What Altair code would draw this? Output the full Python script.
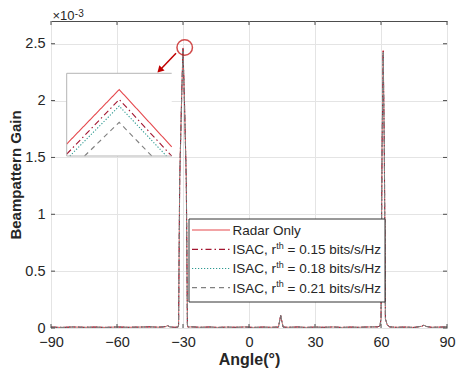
import altair as alt
import pandas as pd

# ---------------- data (gain in units of 1e-3) ----------------
ANGLES = [-90, -85, -80, -75, -70, -65, -60, -55, -50, -45, -41, -38, -37, -36, -34,
          -32.2, -32.0, -31.85, -31.5, -30.6, -30.0, -29.4, -28.5, -28.15, -28.0, -27.8,
          -26, -22, -18, -14, -10, -6, -2, 2, 6, 10, 13.4, 14.4, 15.5, 18, 22, 26, 30,
          34, 38, 42, 46, 50, 54, 58.6, 59.5, 60.0, 60.15, 60.5, 61.0, 61.5, 61.85, 62.0,
          62.8, 63.8, 67, 71, 75, 78.5, 79.5, 80.5, 83, 87, 90]

RADAR = [0.008, 0.005, 0.009, 0.006, 0.008, 0.005, 0.009, 0.006, 0.008, 0.010, 0.007, 0.012, 0.020, 0.010, 0.006,
         0.008, 0.030, 0.45, 1.30, 2.05, 2.463, 2.05, 1.30, 0.45, 0.030, 0.008,
         0.010, 0.006, 0.009, 0.005, 0.008, 0.006, 0.009, 0.005, 0.008, 0.006, 0.008, 0.110, 0.008, 0.006, 0.009, 0.005, 0.008,
         0.006, 0.009, 0.005, 0.008, 0.006, 0.009, 0.010, 0.020, 0.08, 0.60, 1.60, 2.44, 1.60, 0.60, 0.08,
         0.030, 0.010, 0.006, 0.008, 0.005, 0.015, 0.025, 0.014, 0.006, 0.008, 0.010]

ISAC_015 = [0.008, 0.005, 0.009, 0.006, 0.008, 0.005, 0.009, 0.006, 0.008, 0.010, 0.007, 0.012, 0.020, 0.010, 0.006,
            0.008, 0.030, 0.45, 1.30, 2.044, 2.456, 2.044, 1.30, 0.45, 0.030, 0.008,
            0.010, 0.006, 0.009, 0.005, 0.008, 0.006, 0.009, 0.005, 0.008, 0.006, 0.008, 0.110, 0.008, 0.006, 0.009, 0.005, 0.008,
            0.006, 0.009, 0.005, 0.008, 0.006, 0.009, 0.010, 0.020, 0.08, 0.60, 1.595, 2.435, 1.595, 0.60, 0.08,
            0.030, 0.010, 0.006, 0.008, 0.005, 0.015, 0.025, 0.014, 0.006, 0.008, 0.010]

ISAC_018 = [0.008, 0.005, 0.009, 0.006, 0.008, 0.005, 0.009, 0.006, 0.008, 0.010, 0.007, 0.012, 0.020, 0.010, 0.006,
            0.008, 0.030, 0.45, 1.30, 2.040, 2.451, 2.040, 1.30, 0.45, 0.030, 0.008,
            0.010, 0.006, 0.009, 0.005, 0.008, 0.006, 0.009, 0.005, 0.008, 0.006, 0.008, 0.110, 0.008, 0.006, 0.009, 0.005, 0.008,
            0.006, 0.009, 0.005, 0.008, 0.006, 0.009, 0.010, 0.020, 0.08, 0.60, 1.590, 2.430, 1.590, 0.60, 0.08,
            0.030, 0.010, 0.006, 0.008, 0.005, 0.015, 0.025, 0.014, 0.006, 0.008, 0.010]

ISAC_021 = [0.008, 0.005, 0.009, 0.006, 0.008, 0.005, 0.009, 0.006, 0.008, 0.010, 0.007, 0.012, 0.020, 0.010, 0.006,
            0.008, 0.030, 0.45, 1.30, 2.030, 2.439, 2.030, 1.30, 0.45, 0.030, 0.008,
            0.010, 0.006, 0.009, 0.005, 0.008, 0.006, 0.009, 0.005, 0.008, 0.006, 0.008, 0.110, 0.008, 0.006, 0.009, 0.005, 0.008,
            0.006, 0.009, 0.005, 0.008, 0.006, 0.009, 0.010, 0.020, 0.08, 0.60, 1.580, 2.420, 1.580, 0.60, 0.08,
            0.030, 0.010, 0.006, 0.008, 0.005, 0.015, 0.025, 0.014, 0.006, 0.008, 0.010]

# zoomed-in view of the -30 degree peak (inset)
INSET_RADAR_X = [-30.05, -30.0, -29.95]
INSET_RADAR_Y = [2.4237, 2.4632, 2.4217]
INSET_015_X = [-30.05, -30.0, -29.95]
INSET_015_Y = [2.4164, 2.456, 2.415]
INSET_018_X = [-30.047, -30.0, -29.955]
INSET_018_Y = [2.415, 2.4512, 2.415]
INSET_021_X = [-30.033, -30.0, -29.969]
INSET_021_Y = [2.415, 2.4394, 2.415]

SERIES = ["Radar Only", "ISAC, rth = 0.15 bits/s/Hz", "ISAC, rth = 0.18 bits/s/Hz", "ISAC, rth = 0.21 bits/s/Hz"]
RATES = ["0.15", "0.18", "0.21"]
COLORS = ["#e5484d", "#a2142f", "#2f9a92", "#808080"]
DASHES = [[1, 0], [6, 3, 1.5, 3], [1.2, 1.8], [5, 4]]

XTICKS = [-90, -60, -30, 0, 30, 60, 90]
YTICKS = [0, 0.5, 1, 1.5, 2, 2.5]

W, H = 396, 307
FONT = "Liberation Sans"
TXT = "#262626"

# ---------------- frames ----------------
rows = []
for name, vals in zip(SERIES, [RADAR, ISAC_015, ISAC_018, ISAC_021]):
    for a, v in zip(ANGLES, vals):
        rows.append({"series": name, "angle": a, "gain": v})
df = pd.DataFrame(rows)

irows = []
for name, xs, ys in zip(SERIES,
                        [INSET_RADAR_X, INSET_015_X, INSET_018_X, INSET_021_X],
                        [INSET_RADAR_Y, INSET_015_Y, INSET_018_Y, INSET_021_Y]):
    for a, v in zip(xs, ys):
        irows.append({"series": name, "angle": a, "gain": v})
idf = pd.DataFrame(irows)

xt = pd.DataFrame({"t": XTICKS})
yt = pd.DataFrame({"t": YTICKS})
one = pd.DataFrame({"k": [0]})

color = alt.Color("series:N", scale=alt.Scale(domain=SERIES, range=COLORS), legend=None)
dash = alt.StrokeDash("series:N", scale=alt.Scale(domain=SERIES, range=DASHES), legend=None)

xscale = alt.Scale(domain=[-90, 90], nice=False)
yscale = alt.Scale(domain=[0, 2.7], nice=False)

lines = alt.Chart(df).mark_line(strokeWidth=1, clip=True).encode(
    x=alt.X("angle:Q", scale=xscale,
            axis=alt.Axis(values=XTICKS, title="Angle(°)", format="d", labelPadding=7,
                          titlePadding=3, labelFlush=False, labelOverlap=False)),
    y=alt.Y("gain:Q", scale=yscale,
            axis=alt.Axis(values=YTICKS, title="Beampattern Gain", format="~g", labelPadding=6,
                          titlePadding=1, titleFontSize=15, labelFlush=False, labelOverlap=False)),
    color=color, strokeDash=dash,
)

tick_col = "#4d4d4d"
xt_b = alt.Chart(xt).mark_rule(color=tick_col).encode(x=alt.X("t:Q", scale=xscale), y=alt.value(H), y2=alt.value(H - 4))
xt_t = alt.Chart(xt).mark_rule(color=tick_col).encode(x=alt.X("t:Q", scale=xscale), y=alt.value(0), y2=alt.value(4))
yt_l = alt.Chart(yt).mark_rule(color=tick_col).encode(y=alt.Y("t:Q", scale=yscale), x=alt.value(0), x2=alt.value(4))
yt_r = alt.Chart(yt).mark_rule(color=tick_col).encode(y=alt.Y("t:Q", scale=yscale), x=alt.value(W), x2=alt.value(W - 4))

main = alt.layer(lines, xt_b, xt_t, yt_l, yt_r)

# inset
IX0, IX1, IY0, IY1 = 15.7, 120.7, 52.3, 135
inset_bg = alt.Chart(one).mark_rect(fill="white").encode(
    x=alt.value(IX0), x2=alt.value(IX1), y=alt.value(IY0), y2=alt.value(IY1))
inset_lines = alt.Chart(idf).mark_line(strokeWidth=1.1).encode(
    x=alt.X("angle:Q", scale=alt.Scale(domain=[-30.05, -29.95], range=[IX0, IX1], nice=False, zero=False), axis=None),
    y=alt.Y("gain:Q", scale=alt.Scale(domain=[2.415, 2.475], range=[IY1, IY0], nice=False, zero=False), axis=None),
    color=color, strokeDash=dash,
)
frame_col = "#b4b4b4"
f_top = alt.Chart(one).mark_rule(color=frame_col).encode(x=alt.value(IX0), x2=alt.value(IX1), y=alt.value(IY0))
f_left = alt.Chart(one).mark_rule(color=frame_col).encode(x=alt.value(IX0), y=alt.value(IY0), y2=alt.value(IY1))
f_bot = alt.Chart(one).mark_rule(color=frame_col).encode(x=alt.value(IX0), x2=alt.value(IX1), y=alt.value(IY1))

inset = alt.layer(inset_bg, inset_lines, f_top, f_left, f_bot)

# annotation: ellipse + arrow
RED = "#c00000"
circle = alt.Chart(one).mark_point(shape="circle", size=240, filled=False, color=RED, strokeWidth=1.5).encode(
    x=alt.value(133.7), y=alt.value(26.5))
arrow_line = alt.Chart(one).mark_rule(color=RED, strokeWidth=1.5).encode(
    x=alt.value(125), y=alt.value(32.3), x2=alt.value(109.5), y2=alt.value(48.5))
arrow_head = alt.Chart(one).mark_point(shape="triangle-up", size=55, filled=True, color=RED, angle=225, opacity=1).encode(
    x=alt.value(108.7), y=alt.value(49.2))

# x10^-3 multiplier
mult = alt.Chart(one).mark_text(text="×10", align="left", baseline="alphabetic", font=FONT, fontSize=13, color=TXT).encode(
    x=alt.value(1.5), y=alt.value(-1))
mult_exp = alt.Chart(one).mark_text(text="-3", align="left", baseline="alphabetic", font=FONT, fontSize=10, color=TXT).encode(
    x=alt.value(23.8), y=alt.value(-4))

# legend (drawn by hand so the r-superscript is real)
LX0, LX1, LY0, LY1 = 138, 334, 198, 281
ROW_Y = [209, 228.3, 247.5, 266.7]
LFS = 13.5
leg_layers = [alt.Chart(one).mark_rect(fill="white", stroke="#333333", strokeWidth=1).encode(
    x=alt.value(LX0), x2=alt.value(LX1), y=alt.value(LY0), y2=alt.value(LY1))]
for i, name in enumerate(SERIES):
    yv = ROW_Y[i]
    leg_layers.append(alt.Chart(one).mark_rule(color=COLORS[i], strokeDash=DASHES[i], strokeWidth=1.2).encode(
        x=alt.value(141), x2=alt.value(179), y=alt.value(yv)))
    base = yv + 4.8
    tx = 181.5
    if i == 0:
        leg_layers.append(alt.Chart(one).mark_text(text=name, align="left", baseline="alphabetic",
                                                   font=FONT, fontSize=LFS, color=TXT).encode(
            x=alt.value(tx), y=alt.value(base)))
    else:
        leg_layers.append(alt.Chart(one).mark_text(text="ISAC, r", align="left", baseline="alphabetic",
                                                   font=FONT, fontSize=LFS, color=TXT).encode(
            x=alt.value(tx), y=alt.value(base)))
        leg_layers.append(alt.Chart(one).mark_text(text="th", align="left", baseline="alphabetic",
                                                   font=FONT, fontSize=9, color=TXT).encode(
            x=alt.value(tx + 43.7), y=alt.value(base - 5.5)))
        leg_layers.append(alt.Chart(one).mark_text(text="= " + RATES[i - 1] + " bits/s/Hz", align="left",
                                                   baseline="alphabetic", font=FONT, fontSize=LFS, color=TXT).encode(
            x=alt.value(tx + 55.0), y=alt.value(base)))

chart = alt.layer(main, inset, circle, arrow_line, arrow_head, mult, mult_exp, *leg_layers).resolve_scale(
    x="independent", y="independent"
).properties(
    width=W, height=H,
    autosize=alt.AutoSizeParams(type="none"),
    padding={"left": 43, "top": 13, "right": 15, "bottom": 40},
).configure_axis(
    labelFont=FONT, labelFontSize=14.5, labelColor=TXT,
    titleFont=FONT, titleFontSize=16, titleFontWeight="bold", titleColor=TXT,
    grid=True, gridColor="#e4e4e4", gridWidth=1, domain=False, ticks=False,
).configure_view(stroke="#4d4d4d", strokeWidth=1)

chart.save("out.html", embed_options={"renderer": "svg", "actions": False})
